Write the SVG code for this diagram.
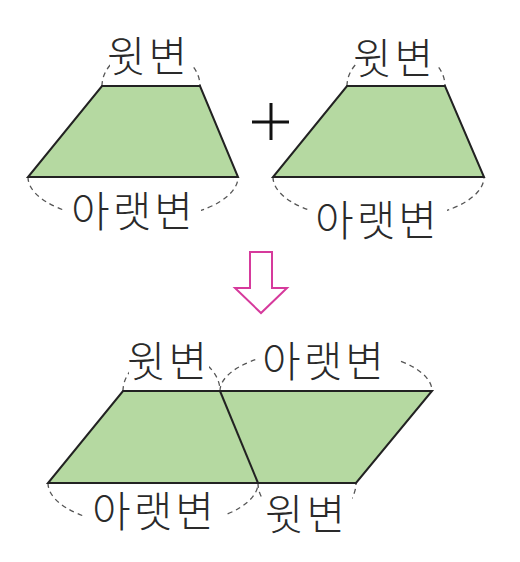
<svg xmlns="http://www.w3.org/2000/svg" width="520" height="562" viewBox="0 0 520 562">
<style>
.shape{fill:#b5d9a1;stroke:#222;stroke-width:2;stroke-linejoin:miter}
.edge{fill:none;stroke:#222;stroke-width:2}
.arc{fill:none;stroke:#555;stroke-width:1.3;stroke-dasharray:5 4}
.mask{fill:#fff}
.lbl{font-family:"Noto Sans CJK KR","Noto Sans",sans-serif;font-size:42px;font-weight:300;fill:#2a2a2a;text-anchor:middle;letter-spacing:3px}
.plus{stroke:#111;stroke-width:3;fill:none}
.arrow{fill:#fff;stroke:#d63a9c;stroke-width:2;stroke-linejoin:miter}
</style>
<rect width="520" height="562" fill="#fff"/>
<g id="connectors">
<path class="arc" d="M102,86 A49,38 0 0 1 200,86"/>
<path class="arc" d="M28,177 A105,44 0 0 0 238,177"/>
<path class="arc" d="M347,86 A49,38 0 0 1 445,86"/>
<path class="arc" d="M273,177 A105.5,44 0 0 0 484,177"/>
<path class="arc" d="M123,391 A48.5,38 0 0 1 220,391"/>
<path class="arc" d="M220,391 A106,42 0 0 1 432,391"/>
<path class="arc" d="M48,483 A105,44 0 0 0 258,483"/>
<path class="arc" d="M258,483 A49,38 0 0 0 356,483"/>
</g>
<g id="trap1">
<polygon class="shape" points="102,86 200,86 238,177 28,177"/>
</g>
<g id="plus">
<path class="plus" d="M252,122 H289 M271,103 V140"/>
</g>
<g id="trap2">
<polygon class="shape" points="347,86 445,86 484,177 273,177"/>
</g>
<g id="arrow">
<polygon class="arrow" points="250,252 272,252 272,288 287,288 261,313 235,288 250,288"/>
</g>
<g id="combined">
<polygon class="shape" points="123,391 432,391 356,483 48,483"/>
<path class="edge" d="M220,391 L258,483"/>
</g>
<g id="label-top1">
<rect class="mask" x="110" y="30" width="82" height="50"/>
<text class="lbl" x="148.5" y="72">윗변</text>
</g>
<g id="label-top2">
<rect class="mask" x="356" y="30" width="82" height="50"/>
<text class="lbl" x="394.5" y="74">윗변</text>
</g>
<g id="label-bot1">
<rect class="mask" x="65" y="188" width="136" height="50"/>
<text class="lbl" x="133.5" y="227">아랫변</text>
</g>
<g id="label-bot2">
<rect class="mask" x="308" y="195" width="139" height="52"/>
<text class="lbl" x="377.5" y="236">아랫변</text>
</g>
<g id="label-c1">
<rect class="mask" x="129" y="338" width="80" height="45"/>
<text class="lbl" x="168.5" y="377">윗변</text>
</g>
<g id="label-c2">
<rect class="mask" x="257" y="336" width="143" height="47"/>
<text class="lbl" x="324.5" y="377">아랫변</text>
</g>
<g id="label-c3">
<rect class="mask" x="84" y="488" width="142" height="50"/>
<text class="lbl" x="154.5" y="527">아랫변</text>
</g>
<g id="label-c4">
<rect class="mask" x="262" y="488" width="90" height="50"/>
<text class="lbl" x="306.5" y="530">윗변</text>
</g>
</svg>
